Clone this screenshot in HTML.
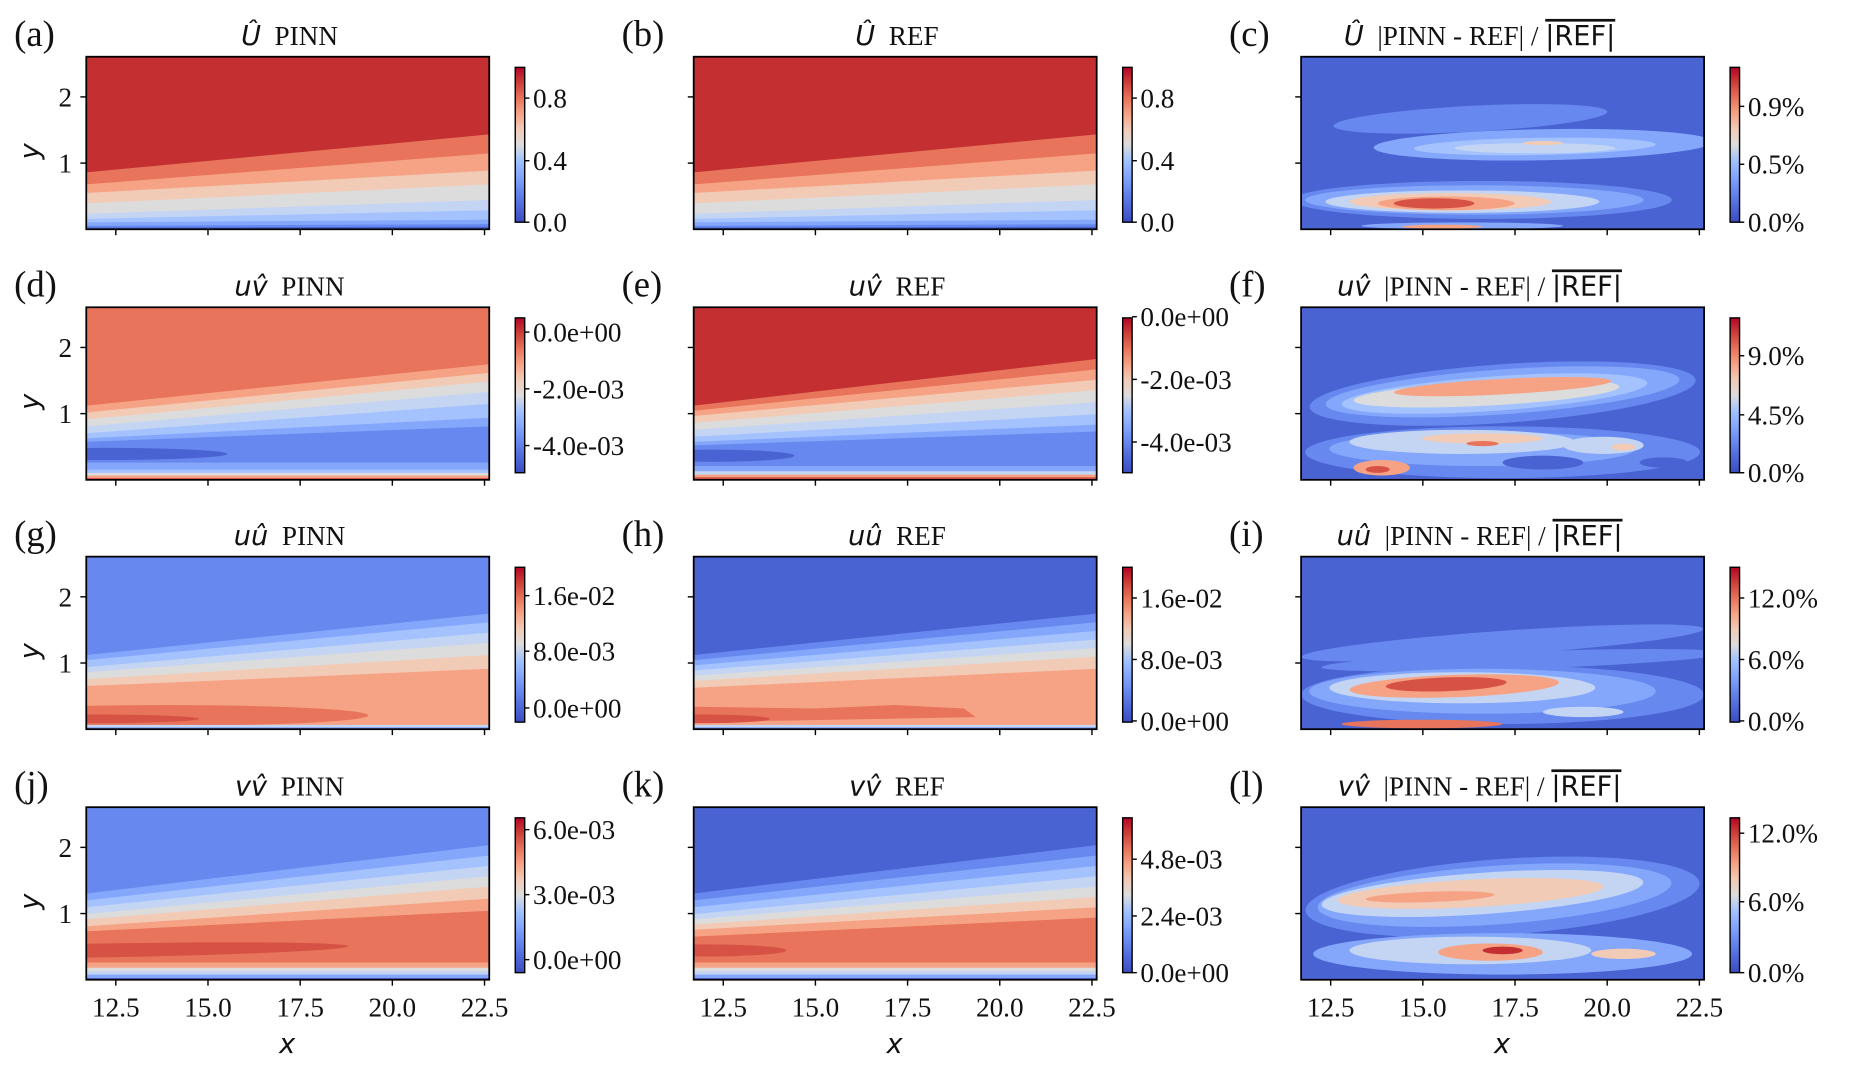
<!DOCTYPE html>
<html><head><meta charset="utf-8"><style>
html,body{margin:0;padding:0;background:#fff;}
svg{display:block;}
text{font-family:"Liberation Serif","DejaVu Serif",serif;fill:#111;}
.s{font-family:"DejaVu Sans","Liberation Sans",sans-serif;}
</style></head><body>
<svg id="S" xmlns="http://www.w3.org/2000/svg" width="1853" height="1075" viewBox="0 0 1568 909.6" preserveAspectRatio="none">
<defs>
<linearGradient id="cw" x1="0" y1="1" x2="0" y2="0">
<stop offset="0" stop-color="#3b4cc0"/><stop offset="0.1" stop-color="#4f69d9"/><stop offset="0.2" stop-color="#6788ee"/><stop offset="0.3" stop-color="#84a7fc"/><stop offset="0.4" stop-color="#a3c2fe"/><stop offset="0.5" stop-color="#dddcdc"/><stop offset="0.6" stop-color="#f2cbb7"/><stop offset="0.7" stop-color="#f6a385"/><stop offset="0.8" stop-color="#e7745b"/><stop offset="0.9" stop-color="#cc4039"/><stop offset="1" stop-color="#b40426"/>
</linearGradient>
</defs>
</svg>
<script>
const C=["#3b4cc0","#4a63d3","#6788ee","#84a7fc","#a3c2fe","#c4d5f3","#dddcdc","#f2cbb7","#f6a385","#e7745b","#d65244","#c43032"];
const S=document.getElementById('S');let h='';
const W=341,H=146,X0=[73,587,1101],Y0=[48,260,471,683];
function bands(px,py,top,bs){h+=`<rect x="${px}" y="${py}" width="${W}" height="${H}" fill="${C[top]}"/>`;
 for(const b of bs){const yl=py+b[0]*H,yr=py+b[1]*H;h+=`<polygon points="${px},${yl} ${px+W},${yr} ${px+W},${py+H} ${px},${py+H}" fill="${C[b[2]]}"/>`;}}
function el(px,py,e){const cx=px+e[0]*W,cy=py+e[1]*H;h+=`<ellipse cx="${cx}" cy="${cy}" rx="${e[2]*W}" ry="${e[3]*H}" fill="${C[e[4]]}" transform="rotate(${e[5]||0} ${cx} ${cy})"/>`;}
function bot(px,py,list){for(const b of list){h+=`<rect x="${px}" y="${py+b[0]*H}" width="${W}" height="${(1-b[0])*H}" fill="${C[b[1]]}"/>`;}}
const clip=(i,j)=>`cp${i}${j}`;
let d='';for(let i=0;i<3;i++)for(let j=0;j<4;j++)d+=`<clipPath id="${clip(i,j)}"><rect x="${X0[i]}" y="${Y0[j]}" width="${W}" height="${H}"/></clipPath>`;
h+=`<defs>${d}</defs>`;
function panel(i,j,f){h+=`<g clip-path="url(#${clip(i,j)})">`;f(X0[i],Y0[j]);h+=`</g>`;}
const Ub=[[.67,.45,9],[.74,.56,8],[.79,.66,7],[.85,.74,6],[.91,.83,5],[.94,.89,4],[.96,.945,3],[.98,.97,2],[.99,.985,1]];
panel(0,0,(x,y)=>bands(x,y,11,Ub));panel(1,0,(x,y)=>bands(x,y,11,Ub));
panel(0,1,(x,y)=>{bands(x,y,9,[[.57,.33,8],[.61,.38,7],[.65,.43,6],[.69,.49,5],[.73,.56,4],[.76,.64,3],[.78,.69,2]]);el(x,y,[0.05,0.85,0.3,0.035,1]);bot(x,y,[[.9,3],[.94,4],[.96,6],[.975,8],[.99,10]]);});
panel(1,1,(x,y)=>{bands(x,y,11,[[.57,.3,9],[.6,.36,8],[.63,.42,7],[.67,.48,6],[.71,.55,5],[.75,.62,4],[.78,.68,3],[.8,.72,2]]);el(x,y,[0.05,0.86,0.2,0.035,1]);bot(x,y,[[.92,3],[.95,5],[.97,8],[.985,10]]);});
panel(0,2,(x,y)=>{bands(x,y,2,[[.57,.33,3],[.6,.38,4],[.64,.44,5],[.67,.5,6],[.71,.57,7],[.75,.65,8]]);el(x,y,[0.2,0.92,0.5,0.06,9]);el(x,y,[0.02,0.94,0.26,0.025,10]);bot(x,y,[[.975,5],[.99,2]]);});
panel(1,2,(x,y)=>{bands(x,y,1,[[.57,.33,2],[.6,.38,3],[.63,.43,4],[.66,.48,5],[.69,.53,6],[.72,.58,7],[.76,.65,8]]);h+=`<polygon points="${x},${y+.87*H} ${x+.3*W},${y+.88*H} ${x+.5*W},${y+.86*H} ${x+.67*W},${y+.88*H} ${x+.7*W},${y+.93*H} ${x},${y+.96*H}" fill="${C[9]}"/>`;el(x,y,[0.02,0.94,0.17,0.025,10]);bot(x,y,[[.975,5],[.99,2]]);});
panel(0,3,(x,y)=>{bands(x,y,2,[[.5,.22,3],[.54,.28,4],[.58,.34,5],[.62,.4,6],[.65,.46,7],[.69,.53,8],[.72,.6,9]]);el(x,y,[0.05,0.83,0.6,0.04,10,-1]);bot(x,y,[[.9,8],[.93,6],[.95,5],[.97,3],[.99,1]]);});
panel(1,3,(x,y)=>{bands(x,y,1,[[.5,.22,2],[.54,.28,3],[.58,.34,4],[.62,.4,5],[.65,.46,6],[.68,.52,7],[.71,.58,8],[.75,.64,9]]);el(x,y,[0.03,0.83,0.2,0.035,10]);bot(x,y,[[.9,8],[.93,6],[.95,5],[.97,3],[.99,1]]);});
panel(2,0,(x,y)=>{h+=`<rect x="${x}" y="${y}" width="${W}" height="${H}" fill="${C[1]}"/>`;
 [[0.42,0.36,0.34,0.075,2,-3],[0.6,0.51,0.42,0.09,3,-1],[0.58,0.52,0.3,0.05,4,-1],[0.58,0.53,0.2,0.03,5],[0.6,0.5,0.05,0.012,7],
 [0.45,0.83,0.47,0.11,2],[0.43,0.83,0.42,0.085,3],[0.4,0.84,0.34,0.065,5],[0.37,0.84,0.25,0.05,7],[0.36,0.85,0.17,0.04,8],[0.33,0.85,0.1,0.03,10],[0.4,0.98,0.25,0.02,3],[0.35,0.985,0.1,0.012,8]].forEach(e=>el(x,y,e));});
panel(2,1,(x,y)=>{h+=`<rect x="${x}" y="${y}" width="${W}" height="${H}" fill="${C[1]}"/>`;
 [[0.5,0.5,0.48,0.17,2,-4],[0.5,0.49,0.44,0.13,3,-4],[0.48,0.5,0.38,0.1,4,-4],[0.46,0.5,0.33,0.07,6,-3],[0.5,0.46,0.27,0.045,8,-3],
 [0.5,0.84,0.49,0.15,2],[0.45,0.82,0.38,0.1,3],[0.4,0.78,0.28,0.07,5],[0.45,0.76,0.15,0.03,7],[0.45,0.79,0.04,0.015,9],[0.75,0.8,0.1,0.05,5],[0.8,0.81,0.03,0.02,7],[0.2,0.93,0.07,0.045,8],[0.19,0.94,0.03,0.02,10],[0.6,0.9,0.1,0.04,1],[0.9,0.9,0.06,0.03,1]].forEach(e=>el(x,y,e));});
panel(2,2,(x,y)=>{h+=`<rect x="${x}" y="${y}" width="${W}" height="${H}" fill="${C[1]}"/>`;
 [[0.5,0.5,0.5,0.07,2,-4],[0.55,0.6,0.5,0.05,2,-2],[0.5,0.8,0.5,0.17,2],[0.45,0.78,0.43,0.13,3],[0.4,0.76,0.33,0.09,5],[0.38,0.75,0.26,0.065,8,-2],[0.36,0.74,0.15,0.04,10,-2],[0.3,0.97,0.2,0.025,9],[0.7,0.9,0.1,0.03,5]].forEach(e=>el(x,y,e));});
panel(2,3,(x,y)=>{h+=`<rect x="${x}" y="${y}" width="${W}" height="${H}" fill="${C[1]}"/>`;
 [[0.5,0.52,0.49,0.22,2,-4],[0.48,0.51,0.44,0.17,3,-4],[0.45,0.5,0.4,0.12,5,-4],[0.42,0.5,0.33,0.08,7,-3],[0.32,0.52,0.16,0.03,8,-2],
 [0.5,0.85,0.47,0.12,3],[0.42,0.83,0.3,0.08,5],[0.47,0.84,0.13,0.05,8],[0.5,0.83,0.05,0.022,11],[0.8,0.85,0.08,0.03,7]].forEach(e=>el(x,y,e));});
const xt=[[98,'12.5'],[176,'15.0'],[254,'17.5'],[332,'20.0'],[410,'22.5']];
const L='abcdefghijkl';
const cb=[
 [[[83,'0.8'],[136,'0.4'],[188,'0.0']],[[83,'0.8'],[136,'0.4'],[188,'0.0']],[[90,'0.9%'],[139,'0.5%'],[188,'0.0%']]],
 [[[281,'0.0e+00'],[329,'-2.0e-03'],[377,'-4.0e-03']],[[268,'0.0e+00'],[321,'-2.0e-03'],[374,'-4.0e-03']],[[301,'9.0%'],[351,'4.5%'],[400,'0.0%']]],
 [[[504,'1.6e-02'],[551,'8.0e-03'],[599,'0.0e+00']],[[506,'1.6e-02'],[558,'8.0e-03'],[610,'0.0e+00']],[[506,'12.0%'],[558,'6.0%'],[610,'0.0%']]],
 [[[702,'6.0e-03'],[757,'3.0e-03'],[812,'0.0e+00']],[[727,'4.8e-03'],[775,'2.4e-03'],[823,'0.0e+00']],[[705,'12.0%'],[763,'6.0%'],[823,'0.0%']]]];
const vn=['Û','uv','uu','vv'];
for(let j=0;j<4;j++)for(let i=0;i<3;i++){
 const x=X0[i],y=Y0[j];
 h+=`<rect x="${x}" y="${y}" width="${W}" height="${H}" fill="none" stroke="#000" stroke-width="1.5"/>`;
 for(const t of xt){const tx=x+t[0]-73;h+=`<line x1="${tx}" y1="${y+H}" x2="${tx}" y2="${y+H+5}" stroke="#000" stroke-width="1.2"/>`;
  if(j==3)h+=`<text x="${tx}" y="${y+H+31}" font-size="23" text-anchor="middle">${t[1]}</text>`;}
 for(const [v,lab] of [[2,'2'],[1,'1']]){const ty=y+H-v*56;h+=`<line x1="${x}" y1="${ty}" x2="${x-5}" y2="${ty}" stroke="#000" stroke-width="1.2"/>`;
  if(i==0)h+=`<text x="${x-12}" y="${ty+8}" font-size="23" text-anchor="end">${lab}</text>`;}
 if(i==0)h+=`<text class="s" transform="translate(33 ${y+80}) rotate(-90)" font-size="23" font-style="italic" text-anchor="middle">y</text>`;
 const cx=x+363,ct=y+9,cbb=y+H-6;
 h+=`<rect x="${cx}" y="${ct}" width="8" height="${cbb-ct}" fill="url(#cw)" stroke="#000" stroke-width="1.2"/>`;
 for(const t of cb[j][i]){h+=`<line x1="${cx+8}" y1="${t[0]}" x2="${cx+12}" y2="${t[0]}" stroke="#000" stroke-width="1.2"/><text x="${cx+15}" y="${t[0]+8}" font-size="23">${t[1]}</text>`;}
 const k=j*3+i;
 h+=`<text x="${x-61}" y="${y-9}" font-size="31">(${L[k]})</text>`;
 const v=vn[j];
 const vt=j==0?`<tspan class="s" font-style="italic">Û</tspan>`:`<tspan class="s" font-style="italic">${v[0]}${v[1]}&#770;</tspan>`;
 if(i<2)h+=`<text x="${x+172}" y="${y-10}" font-size="23" text-anchor="middle" xml:space="preserve">${vt}  ${i==0?'PINN':'REF'}</text>`;
 else{h+=`<text x="${x+151}" y="${y-10}" font-size="23" text-anchor="middle" xml:space="preserve">${vt}  |PINN - REF| / <tspan class="s" text-decoration="overline">|REF|</tspan></text>`;}
}
for(const i of [0,1,2])h+=`<text class="s" x="${X0[i]+170}" y="891" font-size="23" font-style="italic" text-anchor="middle">x</text>`;
S.insertAdjacentHTML('beforeend',h);
</script>
</body></html>
